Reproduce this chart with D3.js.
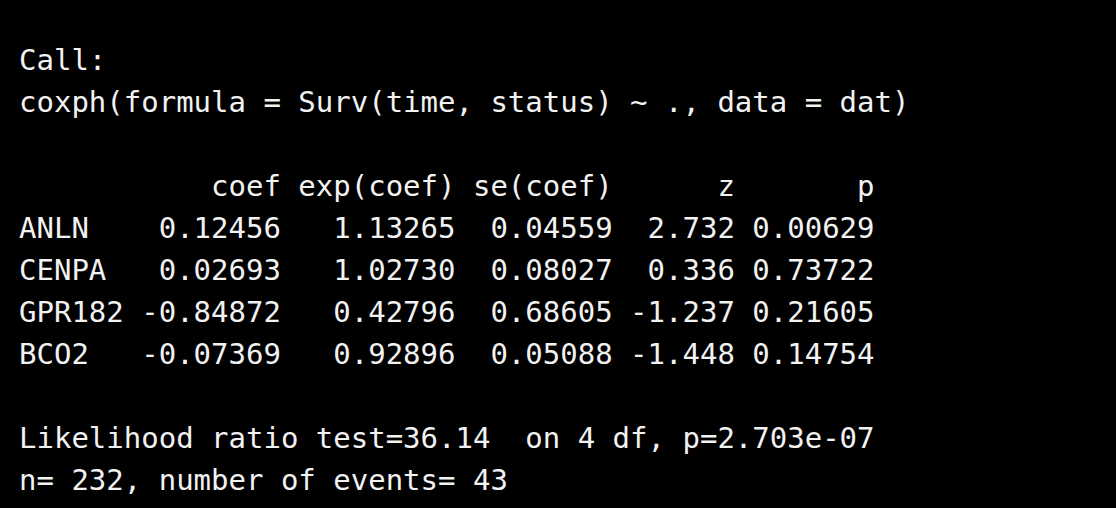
<!DOCTYPE html>
<html><head><meta charset="utf-8">
<script src="https://cdn.jsdelivr.net/npm/d3@7"></script>
<style>html,body{margin:0;background:#000;}</style>
</head><body>
<script>
const header = ["coef","exp(coef)","se(coef)","z","p"];
const genes = ["ANLN","CENPA","GPR182","BCO2"];
const coef = ["0.12456","0.02693","-0.84872","-0.07369"];
const expcoef = ["1.13265","1.02730","0.42796","0.92896"];
const secoef = ["0.04559","0.08027","0.68605","0.05088"];
const zval = ["2.732","0.336","-1.237","-1.448"];
const pval = ["0.00629","0.73722","0.21605","0.14754"];
const callLines = ["Call:","coxph(formula = Surv(time, status) ~ ., data = dat)"];
const footer = ["Likelihood ratio test=36.14  on 4 df, p=2.703e-07","n= 232, number of events= 43"];

const cols=[coef,expcoef,secoef,zval,pval];
const widths=cols.map((c,i)=>Math.max(header[i].length,...c.map(s=>s.length)));
const nameW=Math.max(...genes.map(g=>g.length));
const padL=(s,w)=>s.padStart(w," "), padR=(s,w)=>s.padEnd(w," ");
const lines=[...callLines,""];
lines.push(padR("",nameW)+header.map((h,i)=>" "+padL(h,widths[i])).join(""));
genes.forEach((g,r)=>lines.push(padR(g,nameW)+cols.map((c,i)=>" "+padL(c[r],widths[i])).join("")));
lines.push("",...footer);

const svg=d3.select("body").append("svg").attr("width",1116).attr("height",508);
svg.append("rect").attr("width",1116).attr("height",508).attr("fill","#000");
const y=d3.scaleLinear().domain([0,1]).range([70,112]);
svg.selectAll("text").data(lines).join("text")
  .attr("x",19).attr("y",(d,i)=>y(i))
  .attr("fill","#f2f2f2").attr("font-family","DejaVu Sans Mono, monospace")
  .attr("font-size",29).attr("xml:space","preserve").style("white-space","pre")
  .text(d=>d);
</script>
</body></html>
